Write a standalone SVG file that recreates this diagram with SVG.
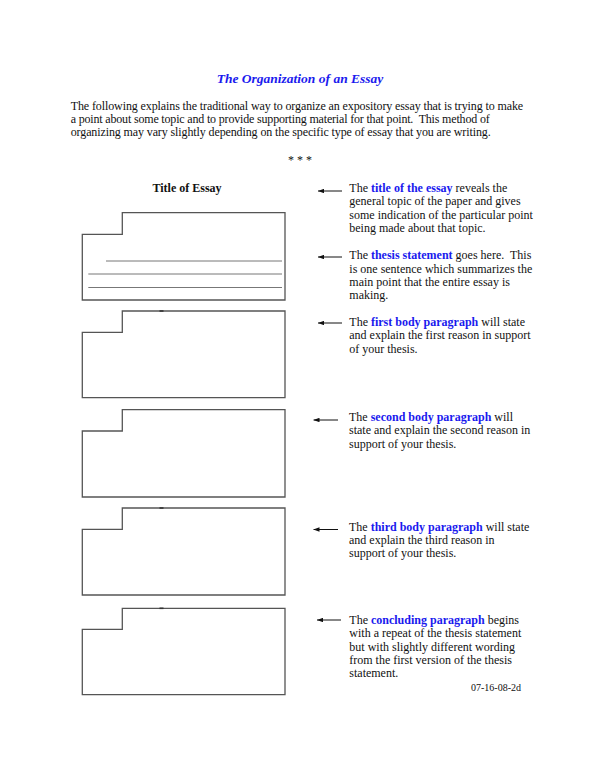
<svg xmlns="http://www.w3.org/2000/svg" width="600" height="776" viewBox="0 0 600 776">
<defs>
<style>
text{font-family:"Liberation Serif","Times New Roman",serif;font-size:12px;fill:#111;white-space:pre}
.ttl{font-size:13.5px;font-weight:bold;font-style:italic;fill:#1a1aee}
.b{font-weight:bold;fill:#1a1aee}
.hd{font-weight:bold}
.box{fill:none;stroke:#555;stroke-width:1.3}
.rule{stroke:#777;stroke-width:1}
.tick{stroke:#333;stroke-width:1.6}
.arr{stroke:#111;stroke-width:1;marker-start:url(#ah)}
.date{font-size:10px}
</style>
<marker id="ah" viewBox="0 0 6 4.4" refX="0" refY="2.2" markerWidth="6" markerHeight="4.4" markerUnits="userSpaceOnUse" orient="auto">
<path d="M0,2.2 L6,0 L6,4.4 Z" fill="#111"/>
</marker>
</defs>
<rect width="600" height="776" fill="#fff"/>
<g id="header">
<text class="ttl" x="300" y="82.5" text-anchor="middle">The Organization of an Essay</text>
<text x="70.7" y="109.5" textLength="452.5" lengthAdjust="spacing">The following explains the traditional way to organize an expository essay that is trying to make</text>
<text x="70.7" y="122.8" textLength="419" lengthAdjust="spacing">a point about some topic and to provide supporting material for that point.  This method of</text>
<text x="70.7" y="136" textLength="420" lengthAdjust="spacing">organizing may vary slightly depending on the specific type of essay that you are writing.</text>
<text x="300" y="164" text-anchor="middle">* * *</text>
<text class="hd" x="187" y="191.5" text-anchor="middle">Title of Essay</text>
</g>
<g id="box-intro">
<path class="box" d="M122.3,212.7 H285 V300 H82.3 V234.3 H122.3 Z"/>
<line class="rule" x1="106" y1="261" x2="282" y2="261"/>
<line class="rule" x1="88.3" y1="274" x2="282" y2="274"/>
<line class="rule" x1="88.3" y1="287.5" x2="282" y2="287.5"/>
</g>
<g id="box-body1">
<path class="box" d="M122.3,311 H285 V397.7 H82.3 V332.3 H122.3 Z"/>
<line class="tick" x1="159.5" y1="311" x2="163.5" y2="311"/>
</g>
<g id="box-body2">
<path class="box" d="M122.3,409.7 H285 V497 H82.3 V431 H122.3 Z"/>
</g>
<g id="box-body3">
<path class="box" d="M122.3,508 H285 V595 H82.3 V529.3 H122.3 Z"/>
<line class="tick" x1="159.5" y1="508" x2="163.5" y2="508"/>
</g>
<g id="box-conclusion">
<path class="box" d="M122.3,608.3 H285 V694.7 H82.3 V629.3 H122.3 Z"/>
<line class="tick" x1="159.5" y1="608.3" x2="163.5" y2="608.3"/>
</g>
<g id="connectors">
<line class="arr" x1="318" y1="191" x2="342" y2="191"/>
<line class="arr" x1="318" y1="257" x2="342" y2="257"/>
<line class="arr" x1="318" y1="323" x2="342" y2="323"/>
<line class="arr" x1="313.5" y1="420" x2="338" y2="420"/>
<line class="arr" x1="313.5" y1="529.5" x2="338" y2="529.5"/>
<line class="arr" x1="317" y1="620" x2="341" y2="620"/>
</g>
<g id="note-title">
<text x="349.3" y="192">The <tspan class="b">title of the essay</tspan> reveals the</text>
<text x="349.3" y="205.3">general topic of the paper and gives</text>
<text x="349.3" y="218.6">some indication of the particular point</text>
<text x="349.3" y="231.9">being made about that topic.</text>
</g>
<g id="note-thesis">
<text x="349.3" y="259.3">The <tspan class="b">thesis statement</tspan> goes here.  This</text>
<text x="349.3" y="272.6">is one sentence which summarizes the</text>
<text x="349.3" y="285.9">main point that the entire essay is</text>
<text x="349.3" y="299.2">making.</text>
</g>
<g id="note-body1">
<text x="349.3" y="326">The <tspan class="b">first body paragraph</tspan> will state</text>
<text x="349.3" y="339.3">and explain the first reason in support</text>
<text x="349.3" y="352.6">of your thesis.</text>
</g>
<g id="note-body2">
<text x="349" y="421">The <tspan class="b">second body paragraph</tspan> will</text>
<text x="349" y="434.3">state and explain the second reason in</text>
<text x="349" y="447.6">support of your thesis.</text>
</g>
<g id="note-body3">
<text x="349" y="530.5">The <tspan class="b">third body paragraph</tspan> will state</text>
<text x="349" y="543.8">and explain the third reason in</text>
<text x="349" y="557.1">support of your thesis.</text>
</g>
<g id="note-conclusion">
<text x="349.3" y="624">The <tspan class="b">concluding paragraph</tspan> begins</text>
<text x="349.3" y="637.3">with a repeat of the thesis statement</text>
<text x="349.3" y="650.6">but with slightly different wording</text>
<text x="349.3" y="663.9">from the first version of the thesis</text>
<text x="349.3" y="677.2">statement.</text>
<text class="date" x="521" y="691" text-anchor="end">07-16-08-2d</text>
</g>
</svg>
